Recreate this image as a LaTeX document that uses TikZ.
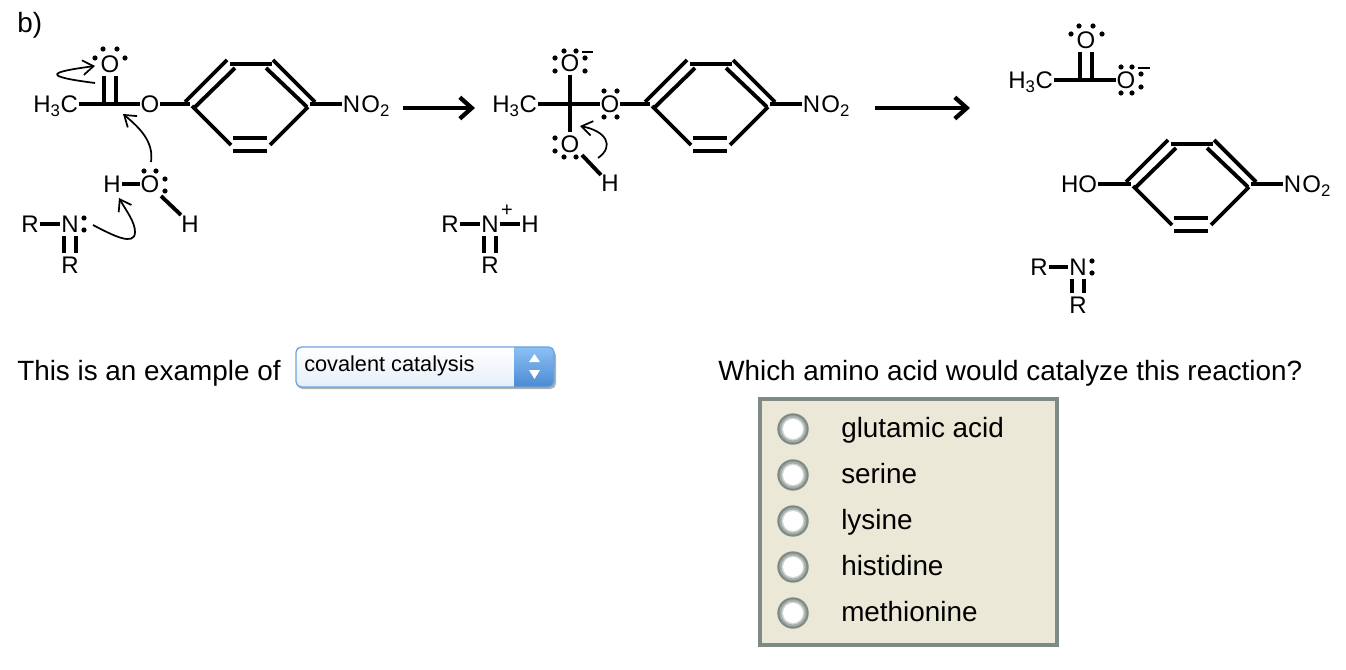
\documentclass[tikz,border=0pt]{standalone}
\usepackage{fontspec}
\setmainfont{Liberation Sans}
\usepackage{xcolor}
\usetikzlibrary{arrows.meta}
\usetikzlibrary{calc}

\definecolor{selectline}{HTML}{6BA5DB}
\definecolor{selecttop}{HTML}{8CC0F6}
\definecolor{selectlow}{HTML}{4B8AD1}
\definecolor{boxline}{HTML}{7E8A84}
\definecolor{boxfill}{HTML}{EBE8D8}

\tikzset{
	atom/.style={inner xsep=0.5pt,inner ysep=2pt,text height=13pt,text depth=0pt,font=\fontsize{18}{20}\selectfont},
	bond/.style={line width=2.9pt},
	curly/.style={line width=1.3pt,-{Straight Barb[length=8pt,width=11pt]}},
	react/.style={line width=3.2pt,-{Straight Barb[length=9pt,width=16pt]}},
	label/.style={inner sep=0pt,text height=16pt,text depth=4pt,font=\fontsize{20.9}{24}\selectfont}
}

\begin{document}
\begin{tikzpicture}[x=0.75pt,y=-0.75pt]
	\useasboundingbox (0,0) rectangle (1346,670);
	\draw (17,25) node[label,anchor=west] (part) {b)};

	% rings
	\foreach \x/\y/\n in {190/104/a,650/104/b,1131/184/c} {
		\begin{scope}[shift={(\x,\y)}]
			\coordinate (\n-l) at (0,0);
			\coordinate (\n-tl) at (40,-40);
			\coordinate (\n-tr) at (80,-40);
			\coordinate (\n-r) at (120,0);
			\coordinate (\n-bl) at (40,43);
			\coordinate (\n-br) at (80,43);
			\draw (\n-r) ++(32,0) node[atom,anchor=west] (\n-no) {N\kern0.8pt O\textsubscript{2}};
		\end{scope}
		\draw [bond] ([shift={(-5,-2)}]\n-l) -- ([shift={(-3,-4)}]\n-tl);
		\draw [bond] ([shift={(5,3)}]\n-l) -- ([shift={(5,4)}]\n-tl);
		\draw [bond] (\n-tl) -- ([shift={(2,0)}]\n-tr);
		\draw [bond] ([shift={(3,-4)}]\n-tr) -- ([shift={(5,-2)}]\n-r);
		\draw [bond] ([shift={(-4,4)}]\n-tr) -- ([shift={(-3,3)}]\n-r);
		\draw [bond] ([shift={(2,2)}]\n-l) -- ([shift={(1,-2)}]\n-bl);
		\draw [bond] ([shift={(-2,3)}]\n-r) -- ([shift={(0,-2)}]\n-br);
		\draw [bond] ([shift={(3,-9)}]\n-bl) -- ([shift={(-3,-9)}]\n-br);
		\draw [bond] ([shift={(3,4)}]\n-bl) -- ([shift={(-3,4)}]\n-br);
		\draw [bond] (\n-r) -- (\n-no);
	}

	% ester
	\draw (79,104) node[atom,anchor=east] (mea) {H\textsubscript{3}C};
	\coordinate (ca) at (110,104);
	\draw (110,64) node[atom] (oa) {O};
	\draw (150,104) node[atom] (ob) {O};
	\draw [bond] (mea) -- (ob);
	\draw [bond] (ob) -- (a-l);
	\draw [bond] ([xshift=-4.5pt]oa.south) -- ([xshift=-4.5pt]ca);
	\draw [bond] ([xshift=4.5pt]oa.south) -- ([xshift=4.5pt]ca);
	\foreach \x/\y in {103/49,117/49,95/58,125/58} \fill (\x,\y) circle (2.6);

	% water
	\draw (112,184) node[atom] (hw) {H};
	\draw (150,184) node[atom] (ow) {O};
	\draw (190,224) node[atom] (hx) {H};
	\draw [bond] (hw) -- (ow);
	\coordinate (owb) at (161,196);
	\coordinate (hxb) at (181,215);
	\draw [bond] (owb) -- (hxb);
	\foreach \x/\y in {144/171,156/171,165/179,165/191} \fill (\x,\y) circle (2.6);

	% base
	\draw (30,224) node[atom] (ra) {R};
	\draw (70,224) node[atom] (na) {N};
	\draw (70,265) node[atom] (rb) {R};
	\draw [bond] (ra) -- (na);
	\draw [bond] ([xshift=-4.7pt]na.south) -- ([xshift=-4.7pt]rb.north);
	\draw [bond] ([xshift=4.7pt]na.south) -- ([xshift=4.7pt]rb.north);
	\foreach \x/\y in {84/218,84/230} \fill (\x,\y) circle (2.6);

	% electron pushing
	\coordinate (pa) at (95,83);
	\coordinate (pb) at (95,66);
	\draw [curly] (pa) .. controls (40,76) and (50,72) .. (pb);
	\coordinate (pc) at (151,162);
	\coordinate (pd) at (123,114);
	\draw [curly] (pc) .. controls (154,142) and (140,128) .. (pd);
	\coordinate (pe) at (93,225);
	\coordinate (pf) at (135,232);
	\coordinate (pg) at (119,198);
	\draw [curly] (pe) .. controls (112,235) and (135,247) .. (pf) .. controls (135,222) and (127,212) .. (pg);

	% arrows
	\coordinate (sa) at (403,108);
	\coordinate (ea) at (475,108);
	\draw [react] (sa) -- (ea);
	\coordinate (sb) at (875,108);
	\coordinate (eb) at (970,108);
	\draw [react] (sb) -- (eb);

	% tetrahedral
	\draw (538,104) node[atom,anchor=east] (meb) {H\textsubscript{3}C};
	\coordinate (cb) at (570,104);
	\draw (570,63) node[atom] (oc) {O};
	\draw (610,104) node[atom] (od) {O};
	\draw (570,144) node[atom] (oe) {O};
	\draw (610,183) node[atom] (hy) {H};
	\draw [bond] (meb) -- (od);
	\draw [bond] (od) -- (b-l);
	\draw [bond] (oc) -- (oe);
	\coordinate (oeb) at (582,155);
	\coordinate (hyb) at (601,175);
	\draw [bond] (oeb) -- (hyb);
	\foreach \x/\y in {564/51,576/51,555/58,555/71,585/58,585/71,604/91,617/91,604/117,617/117,555/138,555/151,564/157,576/157} \fill (\x,\y) circle (2.6);
	\coordinate (mia) at (582,52);
	\coordinate (mib) at (593,52);
	\draw [line width=1pt] (mia) -- (mib);
	\coordinate (ph) at (598,158);
	\coordinate (pi) at (580,126);
	\draw [curly] (ph) .. controls (615,146) and (606,131) .. (pi);

	% protonated base
	\draw (450,224) node[atom] (rc) {R};
	\draw (490,224) node[atom] (nb) {N};
	\draw (530,224) node[atom] (hz) {H};
	\draw (490,265) node[atom] (rd) {R};
	\draw (507,211) node[inner sep=0pt,font=\fontsize{15}{15}\selectfont] (plus) {+};
	\draw [bond] (rc) -- (nb);
	\draw [bond] (nb) -- (hz);
	\draw [bond] ([xshift=-4.7pt]nb.south) -- ([xshift=-4.7pt]rd.north);
	\draw [bond] ([xshift=4.7pt]nb.south) -- ([xshift=4.7pt]rd.north);

	% acetate
	\draw (1054,80) node[atom,anchor=east] (mec) {H\textsubscript{3}C};
	\coordinate (cc) at (1086,80);
	\draw (1086,40) node[atom] (of) {O};
	\draw (1126,80) node[atom] (og) {O};
	\draw [bond] (mec) -- (og);
	\draw [bond] ([xshift=-4.5pt]of.south) -- ([xshift=-4.5pt]cc);
	\draw [bond] ([xshift=4.5pt]of.south) -- ([xshift=4.5pt]cc);
	\foreach \x/\y in {1079/26,1093/26,1071/34,1102/34,1121/67,1132/67,1121/93,1132/93,1141/74,1141/87} \fill (\x,\y) circle (2.6);
	\coordinate (mic) at (1138,68);
	\coordinate (mid) at (1150,68);
	\draw [line width=1pt] (mic) -- (mid);

	% phenol and base
	\draw (1098,184) node[atom,anchor=east] (oh) {HO};
	\draw [bond] (oh) -- (c-l);
	\draw (1039,267) node[atom] (re) {R};
	\draw (1078,267) node[atom] (nc) {N};
	\draw (1078,305) node[atom] (rf) {R};
	\draw [bond] (re) -- (nc);
	\draw [bond] ([xshift=-4.7pt]nc.south) -- ([xshift=-4.7pt]rf.north);
	\draw [bond] ([xshift=4.7pt]nc.south) -- ([xshift=4.7pt]rf.north);
	\foreach \x/\y in {1092/261,1092/273} \fill (\x,\y) circle (2.6);

	% question one
	\draw (17,372) node[label,anchor=west] (catq) {This is an example of};
	\fill [black!30,rounded corners=4pt] (297,350) rectangle (556,389);
	\begin{scope}
		\clip [rounded corners=4pt] (296,347) rectangle (554,387);
		\shade [top color=white,bottom color=selectline!18] (296,347) rectangle (514,387);
		\shade [top color=selecttop,bottom color=selectlow] (514,347) rectangle (554,387);
	\end{scope}
	\draw [selectline,line width=1pt,rounded corners=4pt] (296,347) rectangle (554,387);
	\fill [white] (534.5,354) -- (540,362) -- (529,362) -- cycle;
	\fill [white] (534.5,379) -- (540,370) -- (529,370) -- cycle;
	\draw (304,366) node[inner sep=0pt,anchor=west,text height=12pt,text depth=4pt,font=\fontsize{16.3}{20}\selectfont] (choice) {covalent catalysis};

	% question two
	\draw (718,372) node[label,anchor=west] (aminoq) {Which amino acid would catalyze this reaction?};
	\draw [boxline,fill=boxfill,line width=2.4pt] (760,399) rectangle (1057,645);
	\foreach \y/\n/\t in {429/aa/glutamic acid,475/ab/serine,521/ac/lysine,567/ad/histidine,613/ae/methionine} {
		\fill [boxline] (793,\y) circle (15.7);
		\fill [boxline!70!white] (793,\y) circle (13.5);
		\fill [boxline!35!white] (793,\y) circle (11.5);
		\fill [white] (793,\y) circle (10);
		\draw (841,\y) node[label,anchor=west] (\n) {\t};
	}
\end{tikzpicture}
\end{document}
